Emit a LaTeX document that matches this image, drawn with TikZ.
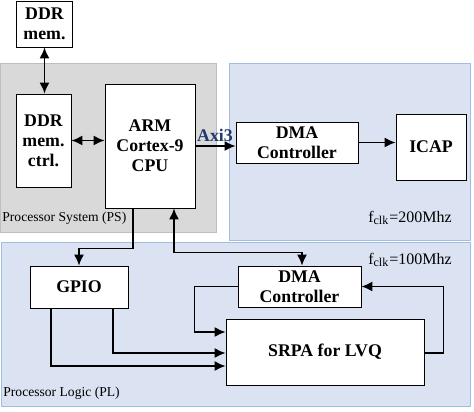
\documentclass[tikz,border=0pt]{standalone}
\usepackage{fontspec}
\setmainfont{Liberation Serif}
\usetikzlibrary{arrows.meta}

\definecolor{psfill}{RGB}{217,217,217}
\definecolor{psline}{RGB}{190,190,190}
\definecolor{plfill}{RGB}{219,227,242}
\definecolor{plline}{RGB}{160,190,225}
\definecolor{axiblue}{RGB}{31,56,110}

\begin{document}
\begin{tikzpicture}[x=0.5pt, y=-0.5pt, >={Latex[length=5.5pt,width=5pt]},
	blk/.style={draw, fill=white, align=center, inner sep=0pt, font=\fontsize{8.9}{10}\selectfont\bfseries},
	region/.style={draw=plline, fill=plfill},
	lbl/.style={font=\fontsize{6.8}{8}\selectfont, anchor=west, inner sep=0pt},
	clk/.style={font=\fontsize{8}{9}\selectfont, inner sep=0pt}]
	\useasboundingbox (0,0) rectangle (474,411);
	% background areas
	\draw[draw=psline, fill=psfill] (0,63) rectangle (216,232);
	\draw[region] (229,63) rectangle (470,240);
	\draw[region] (1,242) rectangle (470,406);
	\node[lbl] (pslbl) at (2,218) {Processor System (PS)};
	\node[lbl] (pllbl) at (3,393) {Processor Logic (PL)};
	\node[clk] (clkhi) at (410,218) {f\textsubscript{clk}=200Mhz};
	\node[clk] (clklo) at (410,260) {f\textsubscript{clk}=100Mhz};
	% blocks
	\node[blk, minimum width=28pt, minimum height=23pt] (ddr) at (44.5,24) {DDR\\mem.};
	\node[blk, minimum width=27.5pt, minimum height=46.5pt] (ctrl) at (43.5,140.5) {DDR\\mem.\\ctrl.};
	\node[blk, minimum width=45pt, minimum height=62pt] (arm) at (150,146) {ARM\\Cortex-9\\CPU};
	\node[blk, minimum width=61pt, minimum height=20.5pt] (dmahi) at (297,142.5) {DMA\\Controller};
	\node[blk, minimum width=35pt, minimum height=33pt] (icap) at (431,147) {ICAP};
	\node[blk, minimum width=49pt, minimum height=21pt] (gpio) at (79,287) {GPIO};
	\node[blk, minimum width=61.5pt, minimum height=20.5pt] (dmalo) at (299.5,286.5) {DMA\\Controller};
	\node[blk, minimum width=99pt, minimum height=33pt] (srpa) at (325,352) {SRPA for LVQ};
	\node[font=\fontsize{8.9}{10}\selectfont\bfseries, text=axiblue, inner sep=0pt] (axi) at (215,135) {Axi3};
	% connections
	\draw[thick, <->] (ddr.south) -- (ddr.south |- ctrl.north);
	\draw[thick, <->] (ctrl.east) -- (ctrl.east -| arm.west);
	\draw[thick, ->] (arm.east) -- (arm.east -| dmahi.west);
	\draw[thick, ->] (dmahi.east) -- (dmahi.east -| icap.west);
	\draw[thick, ->] ([shift={(-17,0)}]arm.south) -- ++(0,40) -| (gpio.north);
	\draw[thick, <->] ([shift={(24,0)}]arm.south) -- ++(0,44) -| ([shift={(2.5,0)}]dmalo.north);
	\draw[thick, ->] (dmalo.west) -- ++(-43,0) |- ([shift={(0,-20)}]srpa.west);
	\draw[thick, ->] ([shift={(0,1)}]srpa.east) -- ++(19,0) |- (dmalo.east);
	\draw[thick, ->] ([shift={(34,0)}]gpio.south) |- ([shift={(0,1)}]srpa.west);
	\draw[thick, ->] ([shift={(-28,0)}]gpio.south) |- ([shift={(0,14)}]srpa.west);
\end{tikzpicture}
\end{document}
